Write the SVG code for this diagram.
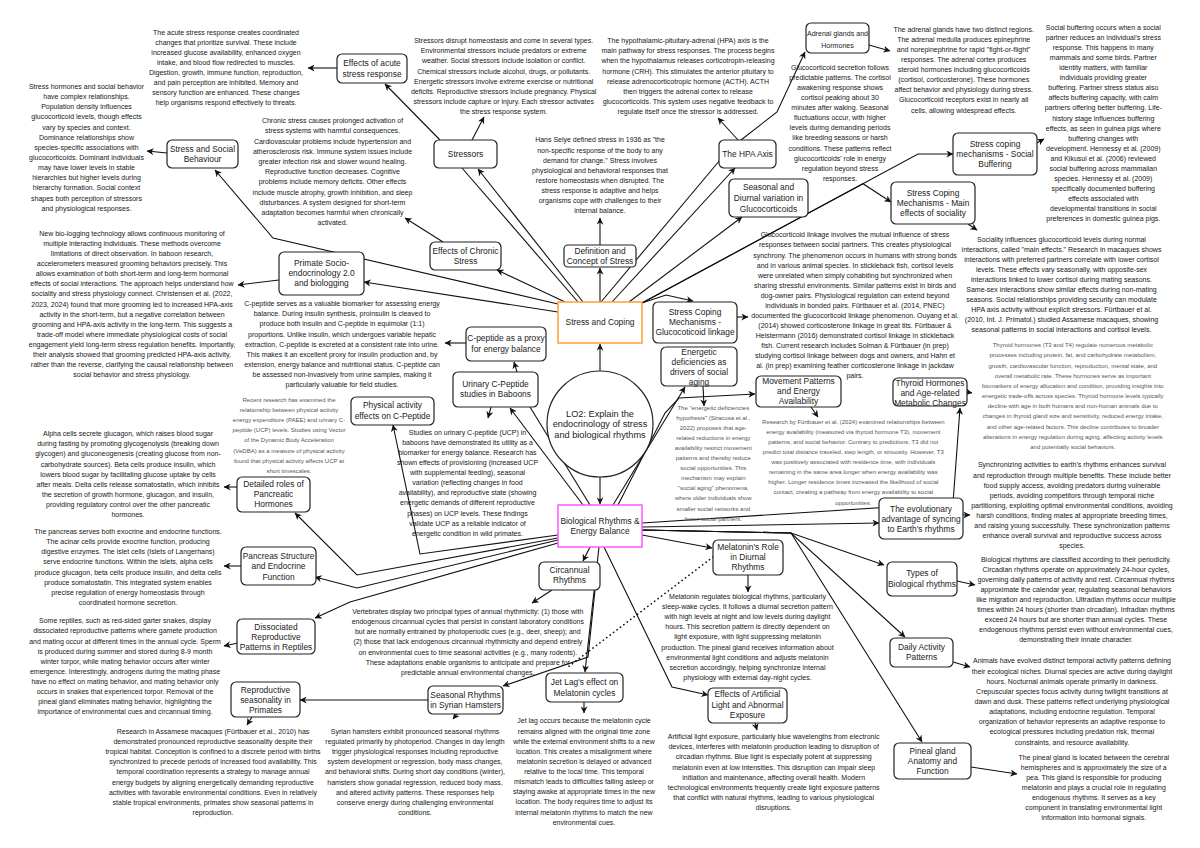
<svg xmlns="http://www.w3.org/2000/svg" width="1200" height="848" viewBox="0 0 1200 848">
<defs>
<marker id="a" viewBox="0 0 10 10" refX="9.5" refY="5" markerWidth="8" markerHeight="7" orient="auto" markerUnits="userSpaceOnUse"><path d="M0,0 L10,5 L0,10 L3,5 z" fill="#111"/></marker>
<style>
text{font-family:"Liberation Sans",Arial,sans-serif;text-anchor:middle}
.t{font-size:7px;fill:#161616}
.g{font-size:6px;fill:#555}
.n{font-size:8.4px;fill:#222}
.box{fill:#fff;stroke:#222;stroke-width:1.2}
.e{fill:none;stroke:#111;stroke-width:1.1;marker-end:url(#a)}
.l{fill:none;stroke:#111;stroke-width:1.1}
.d{fill:none;stroke:#111;stroke-width:1.7;stroke-dasharray:0.1 4.2;stroke-linecap:round}
</style>
</defs>
<rect width="1200" height="848" fill="#fff"/>

<g id="connectors">
<path class="e" d="M583,302 L478,169"/>
<path class="l" d="M462,168 L578,302"/>
<path class="e" d="M565,302 L497,270"/>
<path class="e" d="M558,312 L364,282"/>
<path class="e" d="M558,304 L273,238 L215,170"/>
<path class="e" d="M600,302 L600,268"/>
<path class="e" d="M600,245 L600,218"/>
<path class="l" d="M601,302 L720,160"/>
<path class="e" d="M612,302 L735,168"/>
<path class="e" d="M629,302 L742,217"/>
<path class="e" d="M642,303 L918,154 L953,154"/>
<path class="e" d="M642,303 L863,183.7 L891,202"/>
<path class="e" d="M642,303 L666,295 L693,301"/>
<path class="e" d="M472,140 L484,117"/>
<path class="e" d="M440,140 L385,84"/>
<path class="e" d="M337,68 L308,68"/>
<path class="e" d="M443,242 L405,218"/>
<path class="e" d="M167,153 L147,151"/>
<path class="e" d="M279,280 L238,285"/>
<path class="e" d="M738,140 L718,118"/>
<path class="e" d="M741,140 L777,112 L805,52"/>
<path class="e" d="M869,45 L890,51"/>
<path class="e" d="M968,224 L977,230"/>
<path class="e" d="M1037,143 L1044,139"/>
<path class="e" d="M737,317 L748,317"/>
<path class="e" d="M600,371 L600,344"/>
<path class="e" d="M600,477 L600,504"/>
<path class="e" d="M583,505 L510,408"/>
<path class="l" d="M530,407 L590,505"/>
<path class="e" d="M517,372 L514,362"/>
<path class="e" d="M466,343 L445,343"/>
<path class="e" d="M491,407 L488,418"/>
<path class="e" d="M558,535 L420,554 L393,425"/>
<path class="e" d="M558,538 L357,575 L295,513"/>
<path class="e" d="M558,540 L357,588 L315,577"/>
<path class="e" d="M558,543 L350,602 L315,618"/>
<path class="e" d="M613,505 L685,387"/>
<path class="e" d="M618,505 L665,413 L679,398 L755,394"/>
<path class="e" d="M703,386 L704,406"/>
<path class="e" d="M811,407 L818,417"/>
<path class="e" d="M642,523 L953,503 L960,408"/>
<path class="e" d="M642,527 L879,523"/>
<path class="e" d="M642,530 L791,533 L884,565"/>
<path class="e" d="M642,530 L791,533 L905,637"/>
<path class="e" d="M642,530 L791,533 L922,742"/>
<path class="e" d="M604,547 L672,687 L708,695"/>
<path class="e" d="M642,535 L712,548"/>
<path class="d" d="M713,557 L568,667"/>
<path class="e" d="M590,547 L583,561"/>
<path class="e" d="M599,547 L585,672"/>
<path class="e" d="M595,590 L588,657 L503,686"/>
<path class="e" d="M552,590 L532,603"/>
<path class="e" d="M457,714 L453,719"/>
<path class="e" d="M428,700 L300,700"/>
<path class="e" d="M252,717 L247,725"/>
<path class="e" d="M584,702 L584,713"/>
<path class="e" d="M748,575 L748,592"/>
<path class="e" d="M755,723 L757,730"/>
<path class="e" d="M957,581 L975,585"/>
<path class="e" d="M953,662 L970,667"/>
<path class="e" d="M971,767 L1017,774"/>
<path class="e" d="M963,515 L970,515"/>
<path class="e" d="M967,392 L972,393"/>
<path class="e" d="M237,487 L224,487"/>
<path class="e" d="M241,566 L224,566"/>
<path class="e" d="M238,643 L224,646"/>
</g>

<g id="texts">
<text class="t" x="226" y="34.7"><tspan x="226">The acute stress response creates coordinated</tspan><tspan x="226" dy="10.1">changes that prioritize survival. These include</tspan><tspan x="226" dy="10.1">increased glucose availability, enhanced oxygen</tspan><tspan x="226" dy="10.1">intake, and blood flow redirected to muscles.</tspan><tspan x="226" dy="10.1">Digestion, growth, immune function, reproduction,</tspan><tspan x="226" dy="10.1">and pain perception are inhibited. Memory and</tspan><tspan x="226" dy="10.1">sensory function are enhanced. These changes</tspan><tspan x="226" dy="10.1">help organisms respond effectively to threats.</tspan></text>

<text class="t" x="86.5" y="89.1"><tspan x="86.5">Stress hormones and social behavior</tspan><tspan x="86.5" dy="10.13">have complex relationships.</tspan><tspan x="86.5" dy="10.13">Population density influences</tspan><tspan x="86.5" dy="10.13">glucocorticoid levels, though effects</tspan><tspan x="86.5" dy="10.13">vary by species and context.</tspan><tspan x="86.5" dy="10.13">Dominance relationships show</tspan><tspan x="86.5" dy="10.13">species-specific associations with</tspan><tspan x="86.5" dy="10.13">glucocorticoids. Dominant individuals</tspan><tspan x="86.5" dy="10.13">may have lower levels in stable</tspan><tspan x="86.5" dy="10.13">hierarchies but higher levels during</tspan><tspan x="86.5" dy="10.13">hierarchy formation. Social context</tspan><tspan x="86.5" dy="10.13">shapes both perception of stressors</tspan><tspan x="86.5" dy="10.13">and physiological responses.</tspan></text>

<text class="t" x="132" y="235.7"><tspan x="132">New bio-logging technology allows continuous monitoring of</tspan><tspan x="132" dy="10.12">multiple interacting individuals. These methods overcome</tspan><tspan x="132" dy="10.12">limitations of direct observation. In baboon research,</tspan><tspan x="132" dy="10.12">accelerometers measured grooming behaviors precisely. This</tspan><tspan x="132" dy="10.12">allows examination of both short-term and long-term hormonal</tspan><tspan x="132" dy="10.12">effects of social interactions. The approach helps understand how</tspan><tspan x="132" dy="10.12">sociality and stress physiology connect. Christensen et al. (2022,</tspan><tspan x="132" dy="10.12">2023, 2024) found that more grooming led to increased HPA-axis</tspan><tspan x="132" dy="10.12">activity in the short-term, but a negative correlation between</tspan><tspan x="132" dy="10.12">grooming and HPA-axis activity in the long-term. This suggests a</tspan><tspan x="132" dy="10.12">trade-off model where immediate physiological costs of social</tspan><tspan x="132" dy="10.12">engagement yield long-term stress regulation benefits. Importantly,</tspan><tspan x="132" dy="10.12">their analysis showed that grooming predicted HPA-axis activity,</tspan><tspan x="132" dy="10.12">rather than the reverse, clarifying the causal relationship between</tspan><tspan x="132" dy="10.12">social behavior and stress physiology.</tspan></text>

<text class="t" x="503.7" y="43.1"><tspan x="503.7">Stressors disrupt homeostasis and come in several types.</tspan><tspan x="503.7" dy="10.14">Environmental stressors include predators or extreme</tspan><tspan x="503.7" dy="10.14">weather. Social stressors include isolation or conflict.</tspan><tspan x="503.7" dy="10.14">Chemical stressors include alcohol, drugs, or pollutants.</tspan><tspan x="503.7" dy="10.14">Energetic stressors involve extreme exercise or nutritional</tspan><tspan x="503.7" dy="10.14">deficits. Reproductive stressors include pregnancy. Physical</tspan><tspan x="503.7" dy="10.14">stressors include capture or injury. Each stressor activates</tspan><tspan x="503.7" dy="10.14">the stress response system.</tspan></text>

<text class="t" x="332.5" y="123.1"><tspan x="332.5">Chronic stress causes prolonged activation of</tspan><tspan x="332.5" dy="10.2">stress systems with harmful consequences.</tspan><tspan x="332.5" dy="10.2">Cardiovascular problems include hypertension and</tspan><tspan x="332.5" dy="10.2">atherosclerosis risk. Immune system issues include</tspan><tspan x="332.5" dy="10.2">greater infection risk and slower wound healing.</tspan><tspan x="332.5" dy="10.2">Reproductive function decreases. Cognitive</tspan><tspan x="332.5" dy="10.2">problems include memory deficits. Other effects</tspan><tspan x="332.5" dy="10.2">include muscle atrophy, growth inhibition, and sleep</tspan><tspan x="332.5" dy="10.2">disturbances. A system designed for short-term</tspan><tspan x="332.5" dy="10.2">adaptation becomes harmful when chronically</tspan><tspan x="332.5" dy="10.2">activated.</tspan></text>

<text class="t" x="688" y="43.1"><tspan x="688">The hypothalamic-pituitary-adrenal (HPA) axis is the</tspan><tspan x="688" dy="10.14">main pathway for stress responses. The process begins</tspan><tspan x="688" dy="10.14">when the hypothalamus releases corticotropin-releasing</tspan><tspan x="688" dy="10.14">hormone (CRH). This stimulates the anterior pituitary to</tspan><tspan x="688" dy="10.14">release adrenocorticotropic hormone (ACTH). ACTH</tspan><tspan x="688" dy="10.14">then triggers the adrenal cortex to release</tspan><tspan x="688" dy="10.14">glucocorticoids. This system uses negative feedback to</tspan><tspan x="688" dy="10.14">regulate itself once the stressor is addressed.</tspan></text>

<text class="t" x="600" y="142.4"><tspan x="600">Hans Selye defined stress in 1936 as "the</tspan><tspan x="600" dy="10.14">non-specific response of the body to any</tspan><tspan x="600" dy="10.14">demand for change." Stress involves</tspan><tspan x="600" dy="10.14">physiological and behavioral responses that</tspan><tspan x="600" dy="10.14">restore homeostasis when disrupted. The</tspan><tspan x="600" dy="10.14">stress response is adaptive and helps</tspan><tspan x="600" dy="10.14">organisms cope with challenges to their</tspan><tspan x="600" dy="10.14">internal balance.</tspan></text>

<text class="t" x="840" y="69.7"><tspan x="840">Glucocorticoid secretion follows</tspan><tspan x="840" dy="10.1">predictable patterns. The cortisol</tspan><tspan x="840" dy="10.1">awakening response shows</tspan><tspan x="840" dy="10.1">cortisol peaking about 30</tspan><tspan x="840" dy="10.1">minutes after waking. Seasonal</tspan><tspan x="840" dy="10.1">fluctuations occur, with higher</tspan><tspan x="840" dy="10.1">levels during demanding periods</tspan><tspan x="840" dy="10.1">like breeding seasons or harsh</tspan><tspan x="840" dy="10.1">conditions. These patterns reflect</tspan><tspan x="840" dy="10.1">glucocorticoids' role in energy</tspan><tspan x="840" dy="10.1">regulation beyond stress</tspan><tspan x="840" dy="10.1">responses.</tspan></text>

<text class="t" x="963.7" y="31.7"><tspan x="963.7">The adrenal glands have two distinct regions.</tspan><tspan x="963.7" dy="10.1">The adrenal medulla produces epinephrine</tspan><tspan x="963.7" dy="10.1">and norepinephrine for rapid "fight-or-flight"</tspan><tspan x="963.7" dy="10.1">responses. The adrenal cortex produces</tspan><tspan x="963.7" dy="10.1">steroid hormones including glucocorticoids</tspan><tspan x="963.7" dy="10.1">(cortisol, corticosterone). These hormones</tspan><tspan x="963.7" dy="10.1">affect behavior and physiology during stress.</tspan><tspan x="963.7" dy="10.1">Glucocorticoid receptors exist in nearly all</tspan><tspan x="963.7" dy="10.1">cells, allowing widespread effects.</tspan></text>

<text class="t" x="1103.3" y="29.7"><tspan x="1103.3">Social buffering occurs when a social</tspan><tspan x="1103.3" dy="10.09">partner reduces an individual's stress</tspan><tspan x="1103.3" dy="10.09">response. This happens in many</tspan><tspan x="1103.3" dy="10.09">mammals and some birds. Partner</tspan><tspan x="1103.3" dy="10.09">identity matters, with familiar</tspan><tspan x="1103.3" dy="10.09">individuals providing greater</tspan><tspan x="1103.3" dy="10.09">buffering. Partner stress status also</tspan><tspan x="1103.3" dy="10.09">affects buffering capacity, with calm</tspan><tspan x="1103.3" dy="10.09">partners offering better buffering. Life-</tspan><tspan x="1103.3" dy="10.09">history stage influences buffering</tspan><tspan x="1103.3" dy="10.09">effects, as seen in guinea pigs where</tspan><tspan x="1103.3" dy="10.09">buffering changes with</tspan><tspan x="1103.3" dy="10.09">development. Hennessy et al. (2009)</tspan><tspan x="1103.3" dy="10.09">and Kikusui et al. (2006) reviewed</tspan><tspan x="1103.3" dy="10.09">social buffering across mammalian</tspan><tspan x="1103.3" dy="10.09">species. Hennessy et al. (2009)</tspan><tspan x="1103.3" dy="10.09">specifically documented buffering</tspan><tspan x="1103.3" dy="10.09">effects associated with</tspan><tspan x="1103.3" dy="10.09">developmental transitions in social</tspan><tspan x="1103.3" dy="10.09">preferences in domestic guinea pigs.</tspan></text>

<text class="t" x="1061.5" y="241.7"><tspan x="1061.5">Sociality influences glucocorticoid levels during normal</tspan><tspan x="1061.5" dy="10">interactions, called "main effects." Research in macaques shows</tspan><tspan x="1061.5" dy="10">interactions with preferred partners correlate with lower cortisol</tspan><tspan x="1061.5" dy="10">levels. These effects vary seasonally, with opposite-sex</tspan><tspan x="1061.5" dy="10">interactions linked to lower cortisol during mating seasons.</tspan><tspan x="1061.5" dy="10">Same-sex interactions show similar effects during non-mating</tspan><tspan x="1061.5" dy="10">seasons. Social relationships providing security can modulate</tspan><tspan x="1061.5" dy="10">HPA axis activity without explicit stressors. Fürtbauer et al.</tspan><tspan x="1061.5" dy="10">(2010, Int. J. Primatol.) studied Assamese macaques, showing</tspan><tspan x="1061.5" dy="10">seasonal patterns in social interactions and cortisol levels.</tspan></text>

<text class="t" x="855" y="237.4"><tspan x="855">Glucocorticoid linkage involves the mutual influence of stress</tspan><tspan x="855" dy="10.07">responses between social partners. This creates physiological</tspan><tspan x="855" dy="10.07">synchrony. The phenomenon occurs in humans with strong bonds</tspan><tspan x="855" dy="10.07">and in various animal species. In stickleback fish, cortisol levels</tspan><tspan x="855" dy="10.07">were unrelated when simply cohabiting but synchronized when</tspan><tspan x="855" dy="10.07">sharing stressful environments. Similar patterns exist in birds and</tspan><tspan x="855" dy="10.07">dog-owner pairs. Physiological regulation can extend beyond</tspan><tspan x="855" dy="10.07">individuals in bonded pairs. Fürtbauer et al. (2014, PNEC)</tspan><tspan x="855" dy="10.07">documented the glucocorticoid linkage phenomenon. Ouyang et al.</tspan><tspan x="855" dy="10.07">(2014) showed corticosterone linkage in great tits. Fürtbauer &amp;</tspan><tspan x="855" dy="10.07">Heistermann (2016) demonstrated cortisol linkage in stickleback</tspan><tspan x="855" dy="10.07">fish. Current research includes Solman &amp; Fürtbauer (in prep)</tspan><tspan x="855" dy="10.07">studying cortisol linkage between dogs and owners, and Hahn et</tspan><tspan x="855" dy="10.07">al. (in prep) examining feather corticosterone linkage in jackdaw</tspan><tspan x="855" dy="10.07">pairs.</tspan></text>

<text class="g" x="1072.8" y="347.2"><tspan x="1072.8">Thyroid hormones (T3 and T4) regulate numerous metabolic</tspan><tspan x="1072.8" dy="10.17">processes including protein, fat, and carbohydrate metabolism,</tspan><tspan x="1072.8" dy="10.17">growth, cardiovascular function, reproduction, mental state, and</tspan><tspan x="1072.8" dy="10.17">overall metabolic rate. These hormones serve as important</tspan><tspan x="1072.8" dy="10.17">biomarkers of energy allocation and condition, providing insights into</tspan><tspan x="1072.8" dy="10.17">energetic trade-offs across species. Thyroid hormone levels typically</tspan><tspan x="1072.8" dy="10.17">decline with age in both humans and non-human animals due to</tspan><tspan x="1072.8" dy="10.17">changes in thyroid gland size and sensitivity, reduced energy intake,</tspan><tspan x="1072.8" dy="10.17">and other age-related factors. This decline contributes to broader</tspan><tspan x="1072.8" dy="10.17">alterations in energy regulation during aging, affecting activity levels</tspan><tspan x="1072.8" dy="10.17">and potentially social behaviors.</tspan></text>

<text class="t" x="1072" y="467.4"><tspan x="1072">Synchronizing activities to earth's rhythms enhances survival</tspan><tspan x="1072" dy="10.1">and reproduction through multiple benefits. These include better</tspan><tspan x="1072" dy="10.1">food supply access, avoiding predators during vulnerable</tspan><tspan x="1072" dy="10.1">periods, avoiding competitors through temporal niche</tspan><tspan x="1072" dy="10.1">partitioning, exploiting optimal environmental conditions, avoiding</tspan><tspan x="1072" dy="10.1">harsh conditions, finding mates at appropriate breeding times,</tspan><tspan x="1072" dy="10.1">and raising young successfully. These synchronization patterns</tspan><tspan x="1072" dy="10.1">enhance overall survival and reproductive success across</tspan><tspan x="1072" dy="10.1">species.</tspan></text>

<text class="t" x="1076" y="561.7"><tspan x="1076">Biological rhythms are classified according to their periodicity.</tspan><tspan x="1076" dy="10.08">Circadian rhythms operate on approximately 24-hour cycles,</tspan><tspan x="1076" dy="10.08">governing daily patterns of activity and rest. Circannual rhythms</tspan><tspan x="1076" dy="10.08">approximate the calendar year, regulating seasonal behaviors</tspan><tspan x="1076" dy="10.08">like migration and reproduction. Ultradian rhythms occur multiple</tspan><tspan x="1076" dy="10.08">times within 24 hours (shorter than circadian). Infradian rhythms</tspan><tspan x="1076" dy="10.08">exceed 24 hours but are shorter than annual cycles. These</tspan><tspan x="1076" dy="10.08">endogenous rhythms persist even without environmental cues,</tspan><tspan x="1076" dy="10.08">demonstrating their innate character.</tspan></text>

<text class="t" x="1072" y="663.4"><tspan x="1072">Animals have evolved distinct temporal activity patterns defining</tspan><tspan x="1072" dy="10.15">their ecological niches. Diurnal species are active during daylight</tspan><tspan x="1072" dy="10.15">hours. Nocturnal animals operate primarily in darkness.</tspan><tspan x="1072" dy="10.15">Crepuscular species focus activity during twilight transitions at</tspan><tspan x="1072" dy="10.15">dawn and dusk. These patterns reflect underlying physiological</tspan><tspan x="1072" dy="10.15">adaptations, including endocrine regulation. Temporal</tspan><tspan x="1072" dy="10.15">organization of behavior represents an adaptive response to</tspan><tspan x="1072" dy="10.15">ecological pressures including predation risk, thermal</tspan><tspan x="1072" dy="10.15">constraints, and resource availability.</tspan></text>

<text class="t" x="1093.8" y="760.1"><tspan x="1093.8">The pineal gland is located between the cerebral</tspan><tspan x="1093.8" dy="10">hemispheres and is approximately the size of a</tspan><tspan x="1093.8" dy="10">pea. This gland is responsible for producing</tspan><tspan x="1093.8" dy="10">melatonin and plays a crucial role in regulating</tspan><tspan x="1093.8" dy="10">endogenous rhythms. It serves as a key</tspan><tspan x="1093.8" dy="10">component in translating environmental light</tspan><tspan x="1093.8" dy="10">information into hormonal signals.</tspan></text>

<text class="t" x="773.7" y="739.1"><tspan x="773.7">Artificial light exposure, particularly blue wavelengths from electronic</tspan><tspan x="773.7" dy="10.14">devices, interferes with melatonin production leading to disruption of</tspan><tspan x="773.7" dy="10.14">circadian rhythms. Blue light is especially potent at suppressing</tspan><tspan x="773.7" dy="10.14">melatonin even at low intensities. This disruption can impair sleep</tspan><tspan x="773.7" dy="10.14">initiation and maintenance, affecting overall health. Modern</tspan><tspan x="773.7" dy="10.14">technological environments frequently create light exposure patterns</tspan><tspan x="773.7" dy="10.14">that conflict with natural rhythms, leading to various physiological</tspan><tspan x="773.7" dy="10.14">disruptions.</tspan></text>

<text class="t" x="747.5" y="599.1"><tspan x="747.5">Melatonin regulates biological rhythms, particularly</tspan><tspan x="747.5" dy="10.08">sleep-wake cycles. It follows a diurnal secretion pattern</tspan><tspan x="747.5" dy="10.08">with high levels at night and low levels during daylight</tspan><tspan x="747.5" dy="10.08">hours. This secretion pattern is directly dependent on</tspan><tspan x="747.5" dy="10.08">light exposure, with light suppressing melatonin</tspan><tspan x="747.5" dy="10.08">production. The pineal gland receives information about</tspan><tspan x="747.5" dy="10.08">environmental light conditions and adjusts melatonin</tspan><tspan x="747.5" dy="10.08">secretion accordingly, helping synchronize internal</tspan><tspan x="747.5" dy="10.08">physiology with external day-night cycles.</tspan></text>

<text class="t" x="584" y="723.4"><tspan x="584">Jet lag occurs because the melatonin cycle</tspan><tspan x="584" dy="10.13">remains aligned with the original time zone</tspan><tspan x="584" dy="10.13">while the external environment shifts to a new</tspan><tspan x="584" dy="10.13">location. This creates a misalignment where</tspan><tspan x="584" dy="10.13">melatonin secretion is delayed or advanced</tspan><tspan x="584" dy="10.13">relative to the local time. This temporal</tspan><tspan x="584" dy="10.13">mismatch leads to difficulties falling asleep or</tspan><tspan x="584" dy="10.13">staying awake at appropriate times in the new</tspan><tspan x="584" dy="10.13">location. The body requires time to adjust its</tspan><tspan x="584" dy="10.13">internal melatonin rhythms to match the new</tspan><tspan x="584" dy="10.13">environmental cues.</tspan></text>

<text class="t" x="415" y="734.1"><tspan x="415">Syrian hamsters exhibit pronounced seasonal rhythms</tspan><tspan x="415" dy="10.08">regulated primarily by photoperiod. Changes in day length</tspan><tspan x="415" dy="10.08">trigger physiological responses including reproductive</tspan><tspan x="415" dy="10.08">system development or regression, body mass changes,</tspan><tspan x="415" dy="10.08">and behavioral shifts. During short day conditions (winter),</tspan><tspan x="415" dy="10.08">hamsters show gonadal regression, reduced body mass,</tspan><tspan x="415" dy="10.08">and altered activity patterns. These responses help</tspan><tspan x="415" dy="10.08">conserve energy during challenging environmental</tspan><tspan x="415" dy="10.08">conditions.</tspan></text>

<text class="t" x="213" y="734.1"><tspan x="213">Research in Assamese macaques (Fürtbauer et al., 2010) has</tspan><tspan x="213" dy="10.08">demonstrated pronounced reproductive seasonality despite their</tspan><tspan x="213" dy="10.08">tropical habitat. Conception is confined to a discrete period with births</tspan><tspan x="213" dy="10.08">synchronized to precede periods of increased food availability. This</tspan><tspan x="213" dy="10.08">temporal coordination represents a strategy to manage annual</tspan><tspan x="213" dy="10.08">energy budgets by aligning energetically demanding reproductive</tspan><tspan x="213" dy="10.08">activities with favorable environmental conditions. Even in relatively</tspan><tspan x="213" dy="10.08">stable tropical environments, primates show seasonal patterns in</tspan><tspan x="213" dy="10.08">reproduction.</tspan></text>

<text class="t" x="125" y="623.4"><tspan x="125">Some reptiles, such as red-sided garter snakes, display</tspan><tspan x="125" dy="10.08">dissociated reproductive patterns where gamete production</tspan><tspan x="125" dy="10.08">and mating occur at different times in the annual cycle. Sperm</tspan><tspan x="125" dy="10.08">is produced during summer and stored during 8-9 month</tspan><tspan x="125" dy="10.08">winter torpor, while mating behavior occurs after winter</tspan><tspan x="125" dy="10.08">emergence. Interestingly, androgens during the mating phase</tspan><tspan x="125" dy="10.08">have no effect on mating behavior, and mating behavior only</tspan><tspan x="125" dy="10.08">occurs in snakes that experienced torpor. Removal of the</tspan><tspan x="125" dy="10.08">pineal gland eliminates mating behavior, highlighting the</tspan><tspan x="125" dy="10.08">importance of environmental cues and circannual timing.</tspan></text>

<text class="t" x="128" y="534.1"><tspan x="128">The pancreas serves both exocrine and endocrine functions.</tspan><tspan x="128" dy="10.1">The acinar cells provide exocrine function, producing</tspan><tspan x="128" dy="10.1">digestive enzymes. The islet cells (Islets of Langerhans)</tspan><tspan x="128" dy="10.1">serve endocrine functions. Within the islets, alpha cells</tspan><tspan x="128" dy="10.1">produce glucagon, beta cells produce insulin, and delta cells</tspan><tspan x="128" dy="10.1">produce somatostatin. This integrated system enables</tspan><tspan x="128" dy="10.1">precise regulation of energy homeostasis through</tspan><tspan x="128" dy="10.1">coordinated hormone secretion.</tspan></text>

<text class="t" x="128" y="436.4"><tspan x="128">Alpha cells secrete glucagon, which raises blood sugar</tspan><tspan x="128" dy="10.04">during fasting by promoting glycogenolysis (breaking down</tspan><tspan x="128" dy="10.04">glycogen) and gluconeogenesis (creating glucose from non-</tspan><tspan x="128" dy="10.04">carbohydrate sources). Beta cells produce insulin, which</tspan><tspan x="128" dy="10.04">lowers blood sugar by facilitating glucose uptake by cells</tspan><tspan x="128" dy="10.04">after meals. Delta cells release somatostatin, which inhibits</tspan><tspan x="128" dy="10.04">the secretion of growth hormone, glucagon, and insulin,</tspan><tspan x="128" dy="10.04">providing regulatory control over the other pancreatic</tspan><tspan x="128" dy="10.04">hormones.</tspan></text>

<text class="g" x="289" y="401.5"><tspan x="289">Recent research has examined the</tspan><tspan x="289" dy="10.2">relationship between physical activity</tspan><tspan x="289" dy="10.2">energy expenditure (PAEE) and urinary C-</tspan><tspan x="289" dy="10.2">peptide (UCP) levels. Studies using Vector</tspan><tspan x="289" dy="10.2">of the Dynamic Body Acceleration</tspan><tspan x="289" dy="10.2">(VeDBA) as a measure of physical activity</tspan><tspan x="289" dy="10.2">found that physical activity affects UCP at</tspan><tspan x="289" dy="10.2">short timescales.</tspan></text>

<text class="t" x="342" y="306.4"><tspan x="342">C-peptide serves as a valuable biomarker for assessing energy</tspan><tspan x="342" dy="10.04">balance. During insulin synthesis, proinsulin is cleaved to</tspan><tspan x="342" dy="10.04">produce both insulin and C-peptide in equimolar (1:1)</tspan><tspan x="342" dy="10.04">proportions. Unlike insulin, which undergoes variable hepatic</tspan><tspan x="342" dy="10.04">extraction, C-peptide is excreted at a consistent rate into urine.</tspan><tspan x="342" dy="10.04">This makes it an excellent proxy for insulin production and, by</tspan><tspan x="342" dy="10.04">extension, energy balance and nutritional status. C-peptide can</tspan><tspan x="342" dy="10.04">be assessed non-invasively from urine samples, making it</tspan><tspan x="342" dy="10.04">particularly valuable for field studies.</tspan></text>

<text class="t" x="467.5" y="434.7"><tspan x="467.5">Studies on urinary C-peptide (UCP) in</tspan><tspan x="467.5" dy="10.1">baboons have demonstrated its utility as a</tspan><tspan x="467.5" dy="10.1">biomarker for energy balance. Research has</tspan><tspan x="467.5" dy="10.1">shown effects of provisioning (increased UCP</tspan><tspan x="467.5" dy="10.1">with supplemental feeding), seasonal</tspan><tspan x="467.5" dy="10.1">variation (reflecting changes in food</tspan><tspan x="467.5" dy="10.1">availability), and reproductive state (showing</tspan><tspan x="467.5" dy="10.1">energetic demands of different reproductive</tspan><tspan x="467.5" dy="10.1">phases) on UCP levels. These findings</tspan><tspan x="467.5" dy="10.1">validate UCP as a reliable indicator of</tspan><tspan x="467.5" dy="10.1">energetic condition in wild primates.</tspan></text>

<text class="g" x="713.3" y="409.5"><tspan x="713.3">The "energetic deficiencies</tspan><tspan x="713.3" dy="10.1">hypothesis" (Siracusa et al.,</tspan><tspan x="713.3" dy="10.1">2022) proposes that age-</tspan><tspan x="713.3" dy="10.1">related reductions in energy</tspan><tspan x="713.3" dy="10.1">availability restrict movement</tspan><tspan x="713.3" dy="10.1">patterns and thereby reduce</tspan><tspan x="713.3" dy="10.1">social opportunities. This</tspan><tspan x="713.3" dy="10.1">mechanism may explain</tspan><tspan x="713.3" dy="10.1">"social aging" phenomena,</tspan><tspan x="713.3" dy="10.1">where older individuals show</tspan><tspan x="713.3" dy="10.1">smaller social networks and</tspan><tspan x="713.3" dy="10.1">fewer social partners.</tspan></text>

<text class="g" x="853.3" y="423.9"><tspan x="853.3">Research by Fürtbauer et al. (2024) examined relationships between</tspan><tspan x="853.3" dy="10.08">energy availability (measured via thyroid hormone T3), movement</tspan><tspan x="853.3" dy="10.08">patterns, and social behavior. Contrary to predictions, T3 did not</tspan><tspan x="853.3" dy="10.08">predict total distance traveled, step length, or sinuosity. However, T3</tspan><tspan x="853.3" dy="10.08">was positively associated with residence time, with individuals</tspan><tspan x="853.3" dy="10.08">remaining in the same area longer when energy availability was</tspan><tspan x="853.3" dy="10.08">higher. Longer residence times increased the likelihood of social</tspan><tspan x="853.3" dy="10.08">contact, creating a pathway from energy availability to social</tspan><tspan x="853.3" dy="10.08">opportunities.</tspan></text>

<text class="t" x="467.8" y="614.1"><tspan x="467.8">Vertebrates display two principal types of annual rhythmicity: (1) those with</tspan><tspan x="467.8" dy="10.1">endogenous circannual cycles that persist in constant laboratory conditions</tspan><tspan x="467.8" dy="10.1">but are normally entrained by photoperiodic cues (e.g., deer, sheep); and</tspan><tspan x="467.8" dy="10.1">(2) those that lack endogenous circannual rhythmicity and depend entirely</tspan><tspan x="467.8" dy="10.1">on environmental cues to time seasonal activities (e.g., many rodents).</tspan><tspan x="467.8" dy="10.1">These adaptations enable organisms to anticipate and prepare for</tspan><tspan x="467.8" dy="10.1">predictable annual environmental changes.</tspan></text>
</g>

<g id="n-acute"><rect class="box" x="337" y="54" width="70" height="29" rx="5"/><text class="n" x="372" y="66.3"><tspan x="372">Effects of acute</tspan><tspan x="372" dy="10.5">stress response</tspan></text></g>
<g id="n-stressors"><rect class="box" x="434" y="140" width="63" height="28" rx="5"/><text class="n" x="465.5" y="157">Stressors</text></g>
<g id="n-chronic"><rect class="box" x="430" y="242" width="71" height="28" rx="5"/><text class="n" x="465.5" y="253.8"><tspan x="465.5">Effects of Chronic</tspan><tspan x="465.5" dy="10.5">Stress</tspan></text></g>
<g id="n-primate"><rect class="box" x="279" y="252" width="85" height="43" rx="5"/><text class="n" x="321.5" y="266.3"><tspan x="321.5">Primate Socio-</tspan><tspan x="321.5" dy="10">endocrinology 2.0</tspan><tspan x="321.5" dy="10">and biologging</tspan></text></g>
<g id="n-social"><rect class="box" x="167" y="140" width="71" height="28" rx="5"/><text class="n" x="202.5" y="151.7"><tspan x="202.5">Stress and Social</tspan><tspan x="202.5" dy="10.6">Behaviour</tspan></text></g>
<g id="n-definition"><rect class="box" x="564" y="245" width="72" height="22" rx="4"/><text class="n" x="600" y="253.6"><tspan x="600">Definition and</tspan><tspan x="600" dy="10">Concept of Stress</tspan></text></g>
<g id="n-coping"><rect x="558" y="302" width="84" height="41" fill="#fff" stroke="#FFA033" stroke-width="1.5"/><text class="n" x="600" y="325.4">Stress and Coping</text></g>
<g id="n-lo2"><circle cx="600" cy="424" r="53" fill="#fff" stroke="#222" stroke-width="1.2"/><text x="600" y="416.6" style="font-size:9.2px;fill:#222"><tspan x="600">LO2: Explain the</tspan><tspan x="600" dy="10.8">endocrinology of stress</tspan><tspan x="600" dy="10.8">and biological rhythms</tspan></text></g>
<g id="n-bio"><rect x="558" y="505" width="84" height="42" fill="#fff" stroke="#FF55FF" stroke-width="1.5"/><text class="n" x="600" y="523.7"><tspan x="600">Biological Rhythms &amp;</tspan><tspan x="600" dy="10.3">Energy Balance</tspan></text></g>
<g id="n-cproxy"><rect class="box" x="466" y="327" width="80" height="34" rx="5"/><text class="n" x="506" y="341.3"><tspan x="506">C-peptide as a proxy</tspan><tspan x="506" dy="10.7">for energy balance</tspan></text></g>
<g id="n-urinary"><rect class="box" x="453" y="372" width="85" height="35" rx="5"/><text class="n" x="495.5" y="387"><tspan x="495.5">Urinary C-Peptide</tspan><tspan x="495.5" dy="10.3">studies in Baboons</tspan></text></g>
<g id="n-physical"><rect class="box" x="351" y="397" width="83" height="28" rx="5"/><text class="n" x="392.5" y="408"><tspan x="392.5">Physical activity</tspan><tspan x="392.5" dy="10.7">effects on C-Peptide</tspan></text></g>
<g id="n-detailed"><rect class="box" x="237" y="477" width="73" height="35" rx="5"/><text class="n" x="273.5" y="487"><tspan x="273.5">Detailed roles of</tspan><tspan x="273.5" dy="10">Pancreatic</tspan><tspan x="273.5" dy="10.3">Hormones</tspan></text></g>
<g id="n-pancreas"><rect class="box" x="241" y="547" width="75" height="38" rx="5"/><text class="n" x="278.5" y="559"><tspan x="278.5">Pancreas Structure</tspan><tspan x="278.5" dy="10">and Endocrine</tspan><tspan x="278.5" dy="10.7">Function</tspan></text></g>
<g id="n-dissociated"><rect class="box" x="237" y="619" width="78" height="35" rx="5"/><text class="n" x="276" y="629.7"><tspan x="276">Dissociated</tspan><tspan x="276" dy="10">Reproductive</tspan><tspan x="276" dy="10">Patterns in Reptiles</tspan></text></g>
<g id="n-primates"><rect class="box" x="231" y="682" width="69" height="35" rx="5"/><text class="n" x="265.5" y="693"><tspan x="265.5">Reproductive</tspan><tspan x="265.5" dy="10">seasonality in</tspan><tspan x="265.5" dy="10">Primates</tspan></text></g>
<g id="n-circannual"><rect class="box" x="539" y="562" width="61" height="28" rx="5"/><text class="n" x="569.5" y="573"><tspan x="569.5">Circannual</tspan><tspan x="569.5" dy="10.3">Rhythms</tspan></text></g>
<g id="n-hamsters"><rect class="box" x="428" y="686" width="75" height="28" rx="5"/><text class="n" x="465.5" y="697.7"><tspan x="465.5">Seasonal Rhythms</tspan><tspan x="465.5" dy="10.3">in Syrian Hamsters</tspan></text></g>
<g id="n-jetlag"><rect class="box" x="546" y="673" width="77" height="29" rx="5"/><text class="n" x="584.5" y="685.2"><tspan x="584.5">Jet Lag's effect on</tspan><tspan x="584.5" dy="10.6">Melatonin cycles</tspan></text></g>
<g id="n-melatonin"><rect class="box" x="713" y="540" width="70" height="35" rx="5"/><text class="n" x="748" y="549.7"><tspan x="748">Melatonin's Role</tspan><tspan x="748" dy="10.4">in Diurnal</tspan><tspan x="748" dy="10">Rhythms</tspan></text></g>
<g id="n-artificial"><rect class="box" x="708" y="688" width="79" height="35" rx="5"/><text class="n" x="747.5" y="697.3"><tspan x="747.5">Effects of Artificial</tspan><tspan x="747.5" dy="10.4">Light and Abnormal</tspan><tspan x="747.5" dy="10">Exposure</tspan></text></g>
<g id="n-energetic"><rect class="box" x="661" y="347" width="76" height="39" rx="5"/><text class="n" x="699" y="354.7"><tspan x="699">Energetic</tspan><tspan x="699" dy="10">deficiencies as</tspan><tspan x="699" dy="10">drivers of social</tspan><tspan x="699" dy="10">aging</tspan></text></g>
<g id="n-linkage"><rect class="box" x="653" y="302" width="84" height="41" rx="5"/><text class="n" x="695" y="315.3"><tspan x="695">Stress Coping</tspan><tspan x="695" dy="10">Mechanisms -</tspan><tspan x="695" dy="10">Glucocoticoid linkage</tspan></text></g>
<g id="n-movement"><rect class="box" x="756" y="376" width="85" height="31" rx="5"/><text class="n" x="798.5" y="384"><tspan x="798.5">Movement Patterns</tspan><tspan x="798.5" dy="10">and Energy</tspan><tspan x="798.5" dy="10">Availability</tspan></text></g>
<g id="n-thyroid"><rect class="box" x="893" y="378" width="74" height="28" rx="5"/><text class="n" x="930" y="386.3"><tspan x="930">Thyroid Hormones</tspan><tspan x="930" dy="9.7">and Age-related</tspan><tspan x="930" dy="9.9">Metabolic Changes</tspan></text></g>
<g id="n-evolutionary"><rect class="box" x="879" y="498" width="84" height="41" rx="5"/><text class="n" x="921" y="512"><tspan x="921">The evolutionary</tspan><tspan x="921" dy="10">advantage of syncing</tspan><tspan x="921" dy="10">to Earth's rhythms</tspan></text></g>
<g id="n-types"><rect class="box" x="887" y="562" width="70" height="34" rx="5"/><text class="n" x="922" y="576.3"><tspan x="922">Types of</tspan><tspan x="922" dy="10.7">Biological rhythms</tspan></text></g>
<g id="n-daily"><rect class="box" x="890" y="638" width="63" height="29" rx="5"/><text class="n" x="921.5" y="650.3"><tspan x="921.5">Daily Activity</tspan><tspan x="921.5" dy="10">Patterns</tspan></text></g>
<g id="n-pineal"><rect class="box" x="894" y="743" width="77" height="36" rx="5"/><text class="n" x="932.5" y="754"><tspan x="932.5">Pineal gland</tspan><tspan x="932.5" dy="10">Anatomy and</tspan><tspan x="932.5" dy="10">Function</tspan></text></g>
<g id="n-hpa"><rect class="box" x="719" y="140" width="57" height="28" rx="5"/><text class="n" x="747.5" y="157">The HPA Axis</text></g>
<g id="n-seasonal"><rect class="box" x="729" y="179" width="79" height="38" rx="5"/><text class="n" x="768.5" y="190.3"><tspan x="768.5">Seasonal and</tspan><tspan x="768.5" dy="11">Diurnal variation in</tspan><tspan x="768.5" dy="10.5">Glucocorticoids</tspan></text></g>
<g id="n-adrenal"><rect class="box" x="806" y="23" width="63" height="30" rx="5"/><text x="837.5" y="35.8" style="font-size:7.1px;fill:#222"><tspan x="837.5">Adrenal glands and</tspan><tspan x="837.5" dy="11.7">Hormones</tspan></text></g>
<g id="n-buffering"><rect class="box" x="953" y="133" width="84" height="42" rx="5"/><text class="n" x="995" y="147"><tspan x="995">Stress coping</tspan><tspan x="995" dy="10">mechanisms - Social</tspan><tspan x="995" dy="10">Buffering</tspan></text></g>
<g id="n-main"><rect class="box" x="891" y="182" width="84" height="42" rx="5"/><text class="n" x="933" y="196.3"><tspan x="933">Stress Coping</tspan><tspan x="933" dy="9.5">Mechanisms - Main</tspan><tspan x="933" dy="10">effects of sociality</tspan></text></g>
</svg>
